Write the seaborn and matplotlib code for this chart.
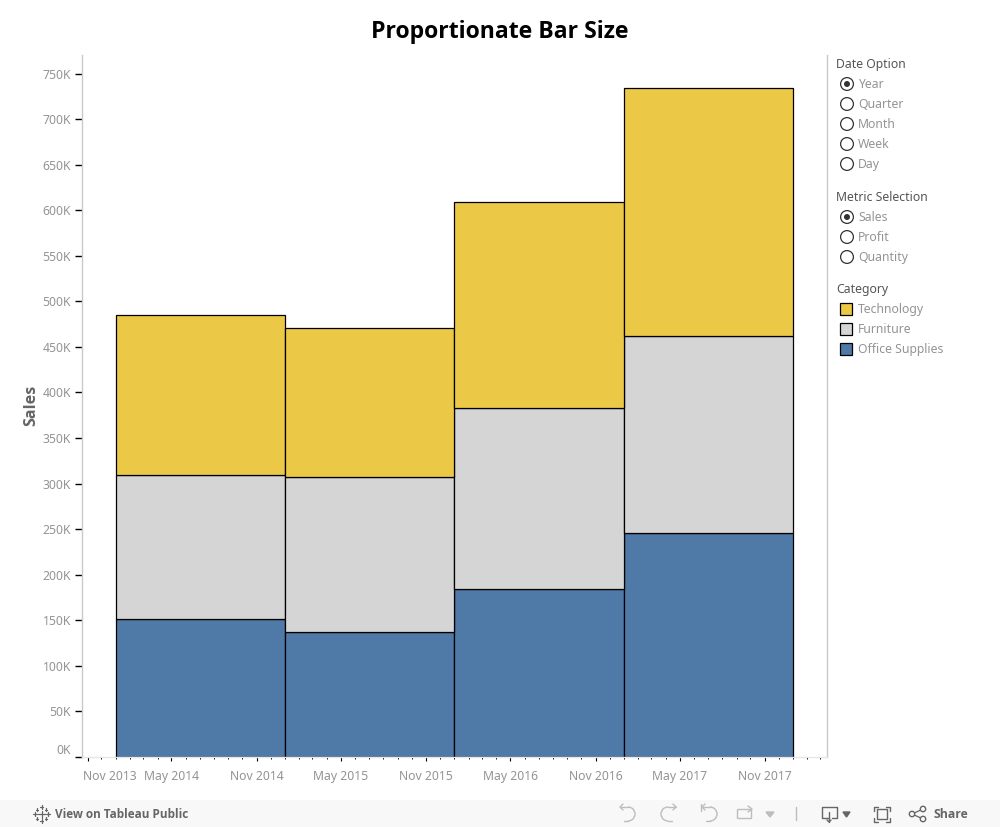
"""
Proportionate bar size chart, yearly sales stacked by category
"""

import datetime as dt

import matplotlib
matplotlib.use('Agg')
import matplotlib.dates as mdates
import matplotlib.pyplot as plt
import matplotlib.transforms as mtrans
from matplotlib.patches import Arc, Circle, Rectangle
import pandas as pd
import seaborn as sns

# Data
years = [2014, 2015, 2016, 2017]
technology = [176300, 162800, 226400, 272700]
furniture = [157200, 170500, 198900, 215400]
office_supplies = [151800, 137200, 183900, 246100]
categories = ['Technology', 'Furniture', 'Office Supplies']
category_colors = ['#ebc946', '#d5d5d5', '#4f79a7']
y_ticks = list(range(0, 750001, 50000))
date_options = ['Year', 'Quarter', 'Month', 'Week', 'Day']
metric_options = ['Sales', 'Profit', 'Quantity']

W, H = 1000, 827
GREY_TEXT = '#949494'
DARK_TEXT = '#555555'
ICON = '#666666'
ICON_LIGHT = '#bdbdbd'
BOLD_FONT = ['Open Sans', 'DejaVu Sans']

sns.set_style('white')
plt.rcParams['font.family'] = ['Noto Sans', 'DejaVu Sans']

fig = plt.figure(figsize=(W / 100, H / 100), dpi=100)
ax = fig.add_axes([82 / W, (H - 757) / H, (826.5 - 82) / W, (757 - 55) / H])

# Long table with one row per year and category, variable width bins are the years
rows = []
for name, values in zip(categories, [technology, furniture, office_supplies]):
    for year, value in zip(years, values):
        rows.append({'start': mdates.date2num(dt.date(year, 7, 1)), 'sales': value, 'category': name})
df = pd.DataFrame(rows)

bin_edges = [mdates.date2num(dt.date(y, 1, 1)) for y in years + [years[-1] + 1]]
sns.histplot(data=df, x='start', weights='sales', hue='category', hue_order=categories,
             palette=dict(zip(categories, category_colors)), multiple='stack', bins=bin_edges,
             edgecolor='black', linewidth=0.9, alpha=1, legend=False, ax=ax)

# Axes
ax.set_xlim(mdates.date2num(dt.date(2013, 10, 20)), mdates.date2num(dt.date(2018, 3, 14)))
ax.set_ylim(0, 770300)
ax.set_xlabel('')
ax.set_ylabel('')
ax.set_yticks(y_ticks)
ax.set_yticklabels([f'{v // 1000}K' for v in y_ticks])
ax.xaxis.set_major_locator(mdates.MonthLocator(bymonth=[5, 11]))
ax.xaxis.set_major_formatter(mdates.DateFormatter('%b %Y'))
ax.xaxis.set_minor_locator(mdates.MonthLocator())
ax.tick_params(axis='y', which='major', left=True, length=5, width=1, color='black',
               labelcolor=GREY_TEXT, labelsize=8.8, pad=3)
ax.tick_params(axis='x', which='major', bottom=True, length=3.2, width=0.8, color='black',
               labelcolor=GREY_TEXT, labelsize=8.8, pad=6)
ax.tick_params(axis='x', which='minor', bottom=True, length=1.3, width=0.7, color='black')

ax.spines['top'].set_visible(False)
ax.spines['left'].set_color('#c9c9c9')
ax.spines['right'].set_color('#c9c9c9')
ax.spines['bottom'].set_color('#e6e6e6')
for side in ['left', 'right', 'bottom']:
    ax.spines[side].set_linewidth(1)

# The two end labels get pushed inwards, same as in the reference
fig.canvas.draw()
zero_label = ax.get_yticklabels()[0]
zero_label.set_va('bottom')
first_x = ax.get_xticklabels()[0]
first_x.set_ha('left')
first_x.set_transform(first_x.get_transform() + mtrans.ScaledTranslation(-3.2 / 72, 0, fig.dpi_scale_trans))

# Overlay in pixel coordinates for everything around the plot
ov = fig.add_axes([0, 0, 1, 1], zorder=-1)
ov.set_xlim(0, W)
ov.set_ylim(H, 0)
ov.axis('off')
top = fig.add_axes([0, 0, 1, 1], zorder=5)
top.set_xlim(0, W)
top.set_ylim(H, 0)
top.axis('off')
top.patch.set_alpha(0)

top.text(500, 32.5, 'Proportionate Bar Size', ha='center', va='center', fontsize=16.6,
         fontweight='bold', color='black', family=BOLD_FONT)
top.text(31, 405, 'Sales', rotation=90, ha='center', va='center', fontsize=11.6,
         fontweight='bold', color='#666666', family=BOLD_FONT)


def radio_group(title, title_y, options, first_y):
    top.text(836, title_y + 4, title, ha='left', va='baseline', fontsize=8.8, color=DARK_TEXT)
    for i, option in enumerate(options):
        y = first_y + i * 20
        top.add_patch(Circle((847, y), 6.4, fill=False, edgecolor='#333333', linewidth=0.9))
        if i == 0:
            top.add_patch(Circle((847, y), 3, facecolor='#333333', edgecolor='none'))
        top.text(858, y + 4, option, ha='left', va='baseline', fontsize=8.8, color=GREY_TEXT)


radio_group('Date Option', 64, date_options, 84)
radio_group('Metric Selection', 197, metric_options, 217)

top.text(836, 293, 'Category', ha='left', va='baseline', fontsize=8.8, color=DARK_TEXT)
for i, (name, color) in enumerate(zip(categories, category_colors)):
    y = 309 + i * 20
    top.add_patch(Rectangle((840, y - 6), 12, 12, facecolor=color, edgecolor='black', linewidth=0.9))
    top.text(858, y + 4, name, ha='left', va='baseline', fontsize=8.8, color=GREY_TEXT)

# Footer strip
ov.add_patch(Rectangle((0, 800), W, 27, facecolor='#f8f8f8', edgecolor='none'))
top.text(55, 814, 'View on Tableau Public', ha='left', va='center', fontsize=8.5,
         fontweight='bold', color=ICON, family=BOLD_FONT)
top.text(933, 814, 'Share', ha='left', va='center', fontsize=8.8, fontweight='bold', color=ICON,
         family=BOLD_FONT)

# Tableau logo, a few small crosses
for cx, cy, r in [(41.5, 814, 3.5), (41.5, 807, 1.8), (41.5, 821, 1.8), (35, 814, 1.8), (48, 814, 1.8),
                  (37, 809.5, 1.3), (46, 809.5, 1.3), (37, 818.5, 1.3), (46, 818.5, 1.3)]:
    top.plot([cx - r, cx + r], [cy, cy], color=ICON, lw=0.9)
    top.plot([cx, cx], [cy - r, cy + r], color=ICON, lw=0.9)


def undo_icon(x0, flip, bar=False):
    # x0 is the arrow tip side, flip is +1 for undo and -1 for redo
    top.add_patch(Arc((x0 + flip * 8, 814), 14, 14, theta1=-90 if flip > 0 else 90,
                      theta2=90 if flip > 0 else 270, color=ICON_LIGHT, lw=1))
    top.plot([x0, x0 + flip * 8], [807, 807], color=ICON_LIGHT, lw=1)
    top.plot([x0 + flip * 3, x0, x0 + flip * 3], [804, 807, 810], color=ICON_LIGHT, lw=1)
    top.plot([x0 + flip * 8, x0 + flip * 4], [821, 821], color=ICON_LIGHT, lw=1)
    if bar:
        top.plot([x0 - 1, x0 - 1], [804, 811], color=ICON_LIGHT, lw=1)


undo_icon(620, 1)
undo_icon(676, -1)
undo_icon(702, 1, bar=True)
top.add_patch(Rectangle((737, 809), 14, 9, fill=False, edgecolor=ICON_LIGHT, lw=1))
top.plot([748, 752, 748], [806, 809, 812], color=ICON_LIGHT, lw=1)
top.fill([766, 774, 770], [812, 812, 817], color=ICON_LIGHT)
top.plot([795.5, 795.5], [807, 820], color=ICON_LIGHT, lw=1)

# Download, fullscreen and share
top.plot([829, 822, 822, 837, 837, 832], [818, 818, 807, 807, 818, 818], color=ICON, lw=1)
top.plot([829, 829], [812, 822], color=ICON, lw=1)
top.plot([827, 829, 831], [820, 822, 820], color=ICON, lw=1)
top.fill([843, 850, 846.5], [812, 812, 817], color=ICON)
top.add_patch(Rectangle((877, 809), 10, 10, fill=False, edgecolor=ICON, lw=1))
for cx, sx in [(873.5, 1), (889.5, -1)]:
    for cy, sy in [(806.5, 1), (821.5, -1)]:
        top.plot([cx + sx * 4, cx, cx], [cy, cy, cy + sy * 4], color=ICON, lw=1)
top.plot([923, 912, 923], [809, 814, 819], color=ICON, lw=0.9)
for cx, cy in [(923, 809), (912, 814), (923, 819)]:
    top.add_patch(Circle((cx, cy), 2.7, facecolor='#f8f8f8', edgecolor=ICON, lw=1, zorder=3))

fig.savefig('out.png', dpi=100, facecolor='white')
